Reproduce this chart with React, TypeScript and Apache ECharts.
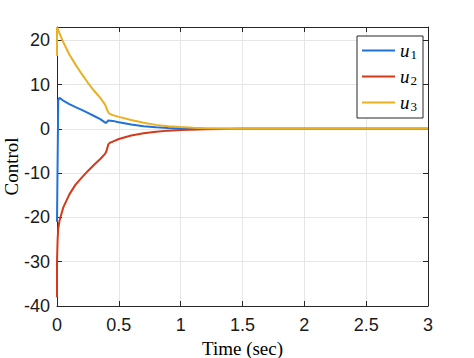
import React, { useEffect, useRef } from "react";
import * as echarts from "echarts";

const seriesNames = ["u1", "u2", "u3"];
const seriesColors = ["#1F72DA", "#D4391A", "#EBB022"];

const tU1 = [0, 0.01, 0.02, 0.05, 0.1, 0.15, 0.2, 0.25, 0.3, 0.35, 0.39, 0.4, 0.415, 0.45, 0.5, 0.6, 0.7, 0.8, 0.9, 1.0, 1.2, 1.5, 3.0];
const u1 = [-21, 6.5, 7.0, 6.4, 5.6, 4.9, 4.3, 3.6, 2.9, 2.2, 1.4, 1.4, 1.9, 1.8, 1.5, 1.0, 0.6, 0.35, 0.2, 0.1, 0.03, 0, 0];

const tU2 = [0, 0, 0.005, 0.01, 0.02, 0.05, 0.1, 0.15, 0.2, 0.25, 0.3, 0.35, 0.39, 0.4, 0.415, 0.43, 0.45, 0.5, 0.6, 0.7, 0.8, 0.9, 1.0, 1.2, 1.5, 3.0];
const u2 = [-38, -30, -25, -22.5, -20.8, -17.8, -14.8, -12.6, -11.0, -9.5, -8.1, -6.8, -5.6, -5.0, -3.5, -3.1, -2.9, -2.3, -1.5, -1.0, -0.65, -0.4, -0.25, -0.1, 0, 0];

const tU3 = [0, 0, 0.02, 0.05, 0.1, 0.15, 0.2, 0.25, 0.3, 0.35, 0.39, 0.405, 0.42, 0.45, 0.5, 0.6, 0.7, 0.8, 0.9, 1.0, 1.1, 1.2, 1.4, 1.6, 3.0];
const u3 = [16.5, 23, 21.6, 19.6, 16.8, 14.5, 12.4, 10.4, 8.6, 7.0, 5.4, 4.3, 3.5, 3.1, 2.7, 2.0, 1.4, 0.9, 0.6, 0.4, 0.25, 0.15, 0.05, 0, 0];

const xTicks = [0, 0.5, 1, 1.5, 2, 2.5, 3];
const yTicks = [-40, -30, -20, -10, 0, 10, 20];

const seriesTimes = [tU1, tU2, tU3];
const seriesValues = [u1, u2, u3];

const axisColor = "#262626";
const gridColor = "#e6e6e6";
const tickFont = "Liberation Sans, Arial, sans-serif";
const serifFont = "Liberation Serif, Times New Roman, serif";

export default function App() {
  const ref = useRef<HTMLDivElement>(null);
  useEffect(() => {
    if (!ref.current) return;
    const chart = echarts.init(ref.current, null, { renderer: "svg" });
    const xAxisBase = {
      type: "value",
      min: xTicks[0],
      max: xTicks[xTicks.length - 1],
      interval: 0.5,
      axisLine: { show: true, onZero: false, lineStyle: { color: axisColor, width: 1 } },
      axisTick: { show: true, inside: true, length: 5, lineStyle: { color: axisColor } },
    };
    const yAxisBase = {
      type: "value",
      min: yTicks[0],
      max: 23,
      interval: 10,
      axisLine: { show: true, onZero: false, lineStyle: { color: axisColor, width: 1 } },
      axisTick: { show: true, inside: true, length: 5, lineStyle: { color: axisColor } },
    };
    chart.setOption({
      animation: false,
      backgroundColor: "#ffffff",
      grid: { left: 57, right: 46, top: 27, bottom: 52, containLabel: false, outerBoundsMode: "none" },
      legend: {
        orient: "vertical",
        left: 357,
        top: 36,
        width: 62,
        padding: [5, 6, 5, 5],
        itemGap: 6,
        itemWidth: 33,
        itemHeight: 2,
        icon: "rect",
        borderColor: axisColor,
        borderWidth: 1,
        backgroundColor: "#ffffff",
        data: seriesNames,
        formatter: (name: string) => `{u|u}{s|${name.slice(1)}}`,
        textStyle: {
          rich: {
            u: { fontFamily: serifFont, fontStyle: "italic", fontSize: 19, color: "#000" },
            s: { fontFamily: serifFont, fontSize: 13, color: "#000", padding: [8, 0, 0, 1] },
          },
        },
      },
      xAxis: [
        {
          ...xAxisBase,
          position: "bottom",
          name: "Time (sec)",
          nameLocation: "middle",
          nameMoveOverlap: false,
          nameGap: 33,
          nameTextStyle: { fontFamily: serifFont, fontSize: 19, color: "#000" },
          axisLabel: { fontFamily: tickFont, fontSize: 18, color: "#1a1a1a", margin: 10 },
          splitLine: { show: true, lineStyle: { color: gridColor, width: 1 } },
        },
        {
          ...xAxisBase,
          position: "top",
          axisLabel: { show: false },
          splitLine: { show: false },
        },
      ],
      yAxis: [
        {
          ...yAxisBase,
          position: "left",
          name: "Control",
          nameLocation: "middle",
          nameMoveOverlap: false,
          nameGap: 36,
          nameTextStyle: { fontFamily: serifFont, fontSize: 19, color: "#000" },
          axisLabel: { fontFamily: tickFont, fontSize: 18, color: "#1a1a1a", margin: 7, showMaxLabel: false },
          splitLine: { show: true, lineStyle: { color: gridColor, width: 1 } },
        },
        {
          ...yAxisBase,
          position: "right",
          axisLabel: { show: false },
          splitLine: { show: false },
        },
      ],
      series: seriesNames.map((name, i) => ({
        name,
        type: "line",
        xAxisIndex: 0,
        yAxisIndex: 0,
        symbol: "none",
        smooth: false,
        color: seriesColors[i],
        lineStyle: { color: seriesColors[i], width: 2 },
        data: seriesTimes[i].map((t, j) => [t, seriesValues[i][j]]),
      })),
    });
    return () => chart.dispose();
  }, []);
  return <div ref={ref} style={{ width: 474, height: 358, position: "absolute", left: 0, top: 0 }} />;
}
